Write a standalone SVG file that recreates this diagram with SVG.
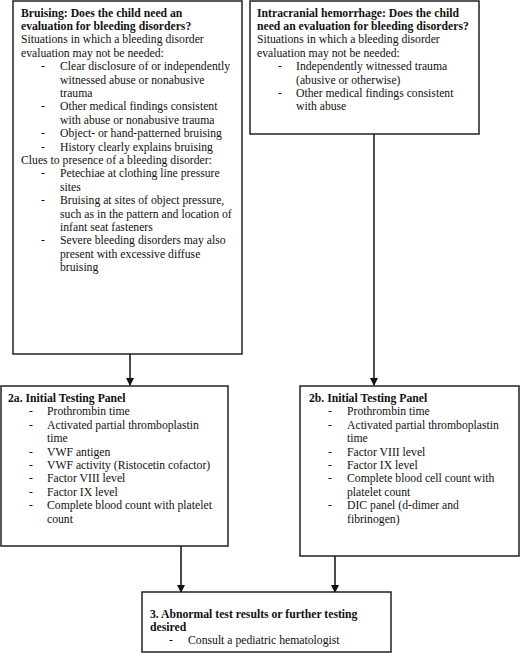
<svg xmlns="http://www.w3.org/2000/svg" width="520" height="653" viewBox="0 0 520 653">
<defs>
<style>
text{font-family:"Liberation Serif","Times New Roman",serif;font-size:11.7px;fill:#111}
.b{font-weight:bold}
.box{fill:#fff;stroke:#222;stroke-width:1.5}
.con{stroke:#111;stroke-width:1.5;fill:none}
</style>
<marker id="ah" markerWidth="8" markerHeight="8" refX="7" refY="4" orient="auto" markerUnits="userSpaceOnUse">
<path d="M0,0 L8,4 L0,8 Z" fill="#111"/>
</marker>
</defs>
<rect width="520" height="653" fill="#fff"/>
<g id="connectors">
<line class="con" x1="130" y1="354" x2="130" y2="385" marker-end="url(#ah)"/>
<line class="con" x1="374" y1="134" x2="374" y2="385" marker-end="url(#ah)"/>
<line class="con" x1="181" y1="546" x2="181" y2="592" marker-end="url(#ah)"/>
<line class="con" x1="335" y1="556" x2="335" y2="592" marker-end="url(#ah)"/>
</g>
<g id="bruising">
<rect class="box" x="13" y="1" width="229" height="353"/>
<text class="b" x="21" y="16.5">Bruising: Does the child need an</text>
<text class="b" x="21" y="29.9">evaluation for bleeding disorders?</text>
<text x="21" y="43.3">Situations in which a bleeding disorder</text>
<text x="21" y="56.7">evaluation may not be needed:</text>
<text x="41" y="70.1">-</text><text x="60" y="70.1">Clear disclosure of or independently</text>
<text x="60" y="83.5">witnessed abuse or nonabusive</text>
<text x="60" y="96.9">trauma</text>
<text x="41" y="110.3">-</text><text x="60" y="110.3">Other medical findings consistent</text>
<text x="60" y="123.7">with abuse or nonabusive trauma</text>
<text x="41" y="137.1">-</text><text x="60" y="137.1">Object- or hand-patterned bruising</text>
<text x="41" y="150.5">-</text><text x="60" y="150.5">History clearly explains bruising</text>
<text x="21" y="163.9">Clues to presence of a bleeding disorder:</text>
<text x="41" y="177.3">-</text><text x="60" y="177.3">Petechiae at clothing line pressure</text>
<text x="60" y="190.7">sites</text>
<text x="41" y="204.1">-</text><text x="60" y="204.1">Bruising at sites of object pressure,</text>
<text x="60" y="217.5">such as in the pattern and location of</text>
<text x="60" y="230.9">infant seat fasteners</text>
<text x="41" y="244.3">-</text><text x="60" y="244.3">Severe bleeding disorders may also</text>
<text x="60" y="257.7">present with excessive diffuse</text>
<text x="60" y="271.1">bruising</text>
</g>
<g id="ich">
<rect class="box" x="250" y="1" width="229" height="133"/>
<text class="b" x="257" y="16.5">Intracranial hemorrhage: Does the child</text>
<text class="b" x="257" y="29.9">need an evaluation for bleeding disorders?</text>
<text x="257" y="43.3">Situations in which a bleeding disorder</text>
<text x="257" y="56.7">evaluation may not be needed:</text>
<text x="278" y="70.1">-</text><text x="296" y="70.1">Independently witnessed trauma</text>
<text x="296" y="83.5">(abusive or otherwise)</text>
<text x="278" y="96.9">-</text><text x="296" y="96.9">Other medical findings consistent</text>
<text x="296" y="110.3">with abuse</text>
</g>
<g id="panel2a">
<rect class="box" x="1" y="386" width="227" height="160"/>
<text class="b" x="8" y="402">2a. Initial Testing Panel</text>
<text x="29" y="415.4">-</text><text x="47" y="415.4">Prothrombin time</text>
<text x="29" y="428.8">-</text><text x="47" y="428.8">Activated partial thromboplastin</text>
<text x="47" y="442.2">time</text>
<text x="29" y="455.6">-</text><text x="47" y="455.6">VWF antigen</text>
<text x="29" y="469">-</text><text x="47" y="469">VWF activity (Ristocetin cofactor)</text>
<text x="29" y="482.4">-</text><text x="47" y="482.4">Factor VIII level</text>
<text x="29" y="495.8">-</text><text x="47" y="495.8">Factor IX level</text>
<text x="29" y="509.2">-</text><text x="47" y="509.2">Complete blood count with platelet</text>
<text x="47" y="522.6">count</text>
</g>
<g id="panel2b">
<rect class="box" x="300" y="386" width="219" height="170"/>
<text class="b" x="309" y="402">2b. Initial Testing Panel</text>
<text x="328" y="415.4">-</text><text x="347" y="415.4">Prothrombin time</text>
<text x="328" y="428.8">-</text><text x="347" y="428.8">Activated partial thromboplastin</text>
<text x="347" y="442.2">time</text>
<text x="328" y="455.6">-</text><text x="347" y="455.6">Factor VIII level</text>
<text x="328" y="469">-</text><text x="347" y="469">Factor IX level</text>
<text x="328" y="482.4">-</text><text x="347" y="482.4">Complete blood cell count with</text>
<text x="347" y="495.8">platelet count</text>
<text x="328" y="509.2">-</text><text x="347" y="509.2">DIC panel (d-dimer and</text>
<text x="347" y="522.6">fibrinogen)</text>
</g>
<g id="hematologist">
<rect class="box" x="142" y="592" width="249" height="60"/>
<text class="b" x="150" y="617.5">3. Abnormal test results or further testing</text>
<text class="b" x="150" y="630.9">desired</text>
<text x="169" y="644.3">-</text><text x="188" y="644.3">Consult a pediatric hematologist</text>
</g>
</svg>
